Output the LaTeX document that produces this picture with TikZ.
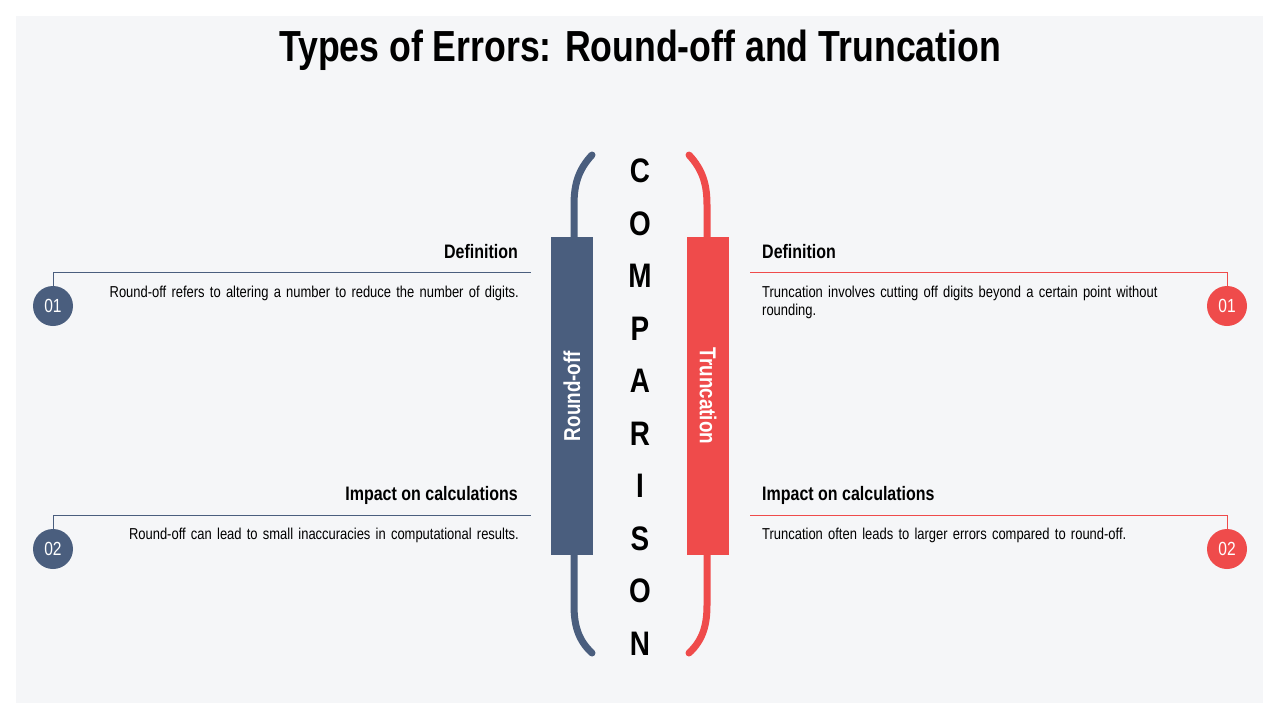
\documentclass[tikz,border=0pt]{standalone}
\usepackage{fontspec}
\setmainfont{Liberation Sans}[FakeStretch=0.82]
\definecolor{cb}{HTML}{4A5E7E}
\definecolor{cr}{HTML}{EF4B4B}
\definecolor{bg}{HTML}{F5F6F8}
\begin{document}
\begin{tikzpicture}[x=1pt,y=-1pt,
 num/.style={circle,minimum size=40pt,inner sep=0pt,text=white,font=\fontsize{19}{19}\selectfont},
 head/.style={font=\bfseries\fontsize{19.5}{19.5}\selectfont,inner sep=0pt},
 side/.style={font=\bfseries\fontsize{23}{23}\selectfont,text=white},
 body/.style={font=\fontsize{15.8}{18}\selectfont,text width=430pt,inner sep=0pt},
 letter/.style={font=\bfseries\fontsize{34}{34}\selectfont}]
\useasboundingbox (0,0) rectangle (1280,720);
\fill[white] (0,0) rectangle (1280,720);
\fill[bg] (16,16) rectangle (1263,703);
\node[font=\bfseries\fontsize{43.5}{43.5}\selectfont] (title) at (640,50) {Types of Errors: Round-off and Truncation};
% brackets
\draw[cb,line width=7pt,line cap=round] (592,155) .. controls (578,170) and (574,185) .. (574,205) -- (574,240);
\draw[cb,line width=7pt,line cap=round] (574,550) -- (574,605) .. controls (574,625) and (578,640) .. (592,653);
\draw[cr,line width=7pt,line cap=round] (689,155) .. controls (703,170) and (707,185) .. (707,205) -- (707,240);
\draw[cr,line width=7pt,line cap=round] (707,550) -- (707,605) .. controls (707,625) and (703,640) .. (689,653);
\fill[cb] (551,237) rectangle (593,555);
\fill[cr] (687,237) rectangle (729,555);
\node[rotate=90,side] (ro) at (572,396) {Round-off};
\node[rotate=-90,side] (tr) at (708,396) {Truncation};
\foreach \l [count=\i] in {C,O,M,P,A,R,I,S,O,N}
  \node[letter] (L\i) at (640,171+52.5*\i-52.5) {\l};
% left
\node[num,fill=cb] (n1) at (53,306) {01};
\node[num,fill=cb] (n2) at (53,549) {02};
\draw[cb] (n1.north) |- (531,272);
\draw[cb] (n2.north) |- (531,515);
\node[head,anchor=east] (h1) at (518,252) {Definition};
\node[head,anchor=east] (h2) at (518,495) {Impact on calculations};
\node[body,anchor=north east,align=right] (b1) at (519,286) {Round-off refers to altering a number to reduce the number of digits.};
\node[body,anchor=north east,align=right] (b2) at (519,528) {Round-off can lead to small inaccuracies in computational results.};
% right
\node[num,fill=cr] (m1) at (1227,306) {01};
\node[num,fill=cr] (m2) at (1227,549) {02};
\draw[cr] (m1.north) |- (750,272);
\draw[cr] (m2.north) |- (750,515);
\node[head,anchor=west] (k1) at (762,252) {Definition};
\node[head,anchor=west] (k2) at (762,495) {Impact on calculations};
\node[body,anchor=north west,align=left] (c1) at (762,286) {Truncation involves cutting off digits beyond a certain point without rounding.};
\node[body,anchor=north west,align=left] (c2) at (762,528) {Truncation often leads to larger errors compared to round-off.};
\end{tikzpicture}
\end{document}
